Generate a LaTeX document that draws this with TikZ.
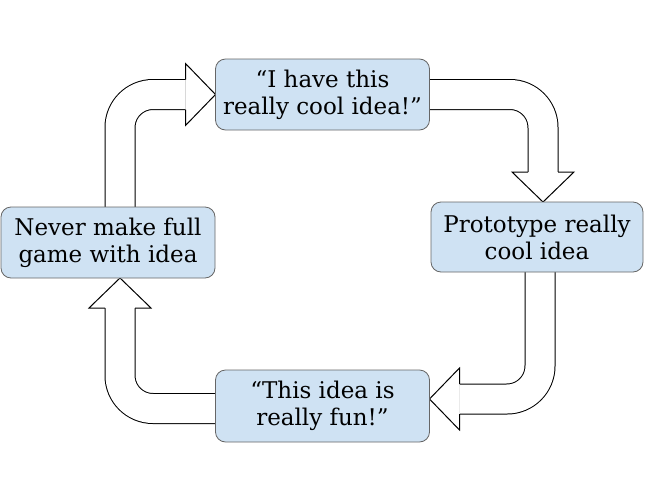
\documentclass[tikz,border=0pt]{standalone}
\usepackage{fontspec}
\setmainfont{DejaVu Serif}
\usetikzlibrary{calc, backgrounds}
\usepackage{xcolor}
\definecolor{boxfill}{HTML}{CFE2F3}
\definecolor{boxline}{HTML}{666666}
% hollow bent arrow: start, corner, tip
\newcommand{\cyclearrow}[3]{%
  \coordinate (hb) at ($(#3)!30pt!(#2)$);
  \draw[double=white, double distance=29pt, line width=1pt, rounded corners=33pt]
    (#1) -- (#2) -- (hb);
  \fill[white] ($(hb)!31pt!90:(#3)$) -- (#3) -- ($(hb)!31pt!-90:(#3)$) -- cycle;
  \draw[line width=1pt]
    ($(hb)!15pt!90:(#3)$) -- ($(hb)!31pt!90:(#3)$) -- (#3)
    -- ($(hb)!31pt!-90:(#3)$) -- ($(hb)!15pt!-90:(#3)$);
}

\begin{document}
\begin{tikzpicture}[x=1pt, y=-1pt,
  stagebox/.style={draw=boxline, fill=boxfill, line width=0.8pt, rounded corners=10pt,
    minimum width=214pt, minimum height=71pt, inner sep=2pt, outer sep=0pt,
    align=center, font=\fontsize{23}{27}\selectfont}]
  \useasboundingbox (0,0) rectangle (646,485);
  % stages
  \node[stagebox] (top) at (322.5,94.5) {“I have this\\really cool idea!”};
  \node[stagebox, minimum width=212pt, minimum height=70pt] (right) at (537,237) {Prototype really\\cool idea};
  \node[stagebox, minimum height=72pt] (bottom) at (322.5,406) {“This idea is\\really fun!”};
  \node[stagebox] (left) at (108,242.5) {Never make full\\game with idea};
  % arrow ends
  \coordinate (s1) at ($(left.north)+(12,2)$);
  \coordinate (t1) at (top.west);
  \coordinate (s2) at ($(top.east)+(-2,0)$);
  \coordinate (t2) at ($(right.north)+(6,0)$);
  \coordinate (s3) at ($(right.south)+(3,-2)$);
  \coordinate (t3) at ($(bottom.east)+(0,-7)$);
  \coordinate (s4) at ($(bottom.west)+(2,2.5)$);
  \coordinate (t4) at ($(left.south)+(12,0)$);
  % arrows
  \begin{scope}[on background layer]
    \cyclearrow{s1}{s1 |- t1}{t1}
    \cyclearrow{s2}{t2 |- s2}{t2}
    \cyclearrow{s3}{s3 |- t3}{t3}
    \cyclearrow{s4}{t4 |- s4}{t4}
  \end{scope}
\end{tikzpicture}
\end{document}
